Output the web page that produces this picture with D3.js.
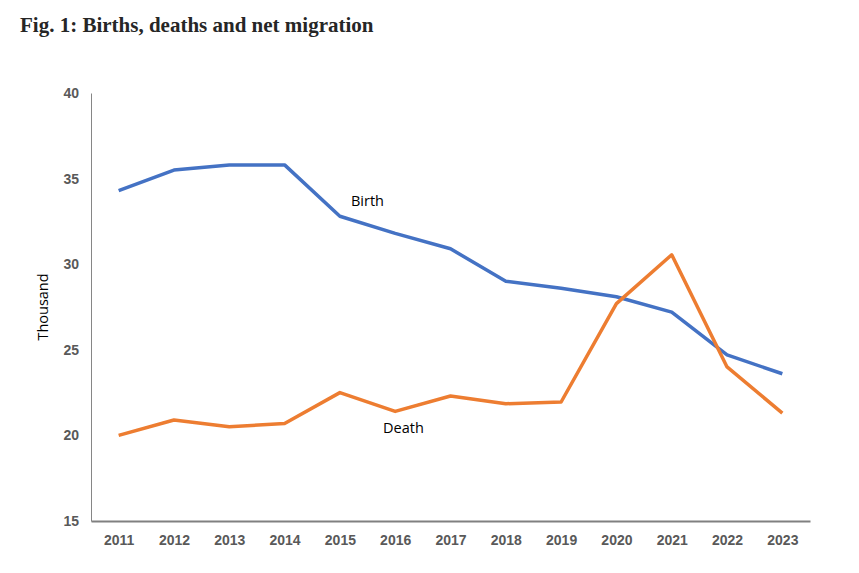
<!DOCTYPE html>
<html>
<head>
<meta charset="utf-8">
<script src="https://cdn.jsdelivr.net/npm/d3@7"></script>
<style>
  body { margin: 0; background: #fff; }
</style>
</head>
<body>
<div id="chart"></div>
<script>
var years = ['2011','2012','2013','2014','2015','2016','2017','2018','2019','2020','2021','2022','2023'];
var births = [34.3, 35.5, 35.8, 35.8, 32.8, 31.8, 30.9, 29.0, 28.6, 28.1, 27.2, 24.7, 23.6];
var deaths = [20.0, 20.9, 20.5, 20.7, 22.5, 21.4, 22.3, 21.85, 21.95, 27.7, 30.55, 24.0, 21.3];
var yTicks = [15, 20, 25, 30, 35, 40];

var w = 859, h = 573;
var padLeft = 91, padRight = 810, padTop = 93, padBottom = 521;

var svg = d3.select('#chart').append('svg')
  .attr('width', w)
  .attr('height', h);

svg.append('text')
  .attr('x', 20).attr('y', 32)
  .attr('font-family', 'Liberation Serif, serif')
  .attr('font-weight', 'bold')
  .attr('font-size', 21)
  .attr('fill', '#262626')
  .text('Fig. 1: Births, deaths and net migration');

var x = d3.scalePoint().domain(years).range([padLeft, padRight]).padding(0.5);
var y = d3.scaleLinear().domain([15, 40]).range([padBottom, padTop]);

// y axis
var yAxis = svg.append('g')
  .attr('transform', 'translate(' + padLeft + ',0)')
  .call(d3.axisLeft(y).tickValues(yTicks).tickSize(0).tickPadding(12));
yAxis.select('.domain').attr('stroke', '#868686').attr('stroke-width', 1);
yAxis.selectAll('text')
  .attr('font-family', 'Liberation Sans, Arial, sans-serif')
  .attr('font-weight', 'bold')
  .attr('font-size', 14)
  .attr('fill', '#595959');

// x axis
var xAxis = svg.append('g')
  .attr('transform', 'translate(0,' + padBottom + ')')
  .call(d3.axisBottom(x).tickSize(0).tickPadding(14));
xAxis.select('.domain').attr('stroke', '#808080').attr('stroke-width', 2);
xAxis.selectAll('text')
  .attr('font-family', 'Liberation Sans, Arial, sans-serif')
  .attr('font-weight', 'bold')
  .attr('font-size', 14)
  .attr('fill', '#595959');

svg.append('text')
  .attr('transform', 'translate(48,307) rotate(-90)')
  .attr('text-anchor', 'middle')
  .attr('font-family', 'Open Sans, sans-serif')
  .attr('font-size', 14.5)
  .attr('fill', '#000')
  .text('Thousand');

var line = d3.line()
  .x(function(d, i) { return x(years[i]); })
  .y(function(d) { return y(d); });

svg.append('path')
  .datum(births)
  .attr('fill', 'none')
  .attr('stroke', '#4472C4')
  .attr('stroke-width', 3.5)
  .attr('stroke-linejoin', 'round')
  .attr('d', line);

svg.append('path')
  .datum(deaths)
  .attr('fill', 'none')
  .attr('stroke', '#ED7D31')
  .attr('stroke-width', 3.5)
  .attr('stroke-linejoin', 'round')
  .attr('d', line);

svg.append('text')
  .attr('x', 351).attr('y', 206)
  .attr('font-family', 'Open Sans, sans-serif')
  .attr('font-size', 14.5)
  .attr('fill', '#000')
  .text('Birth');

svg.append('text')
  .attr('x', 383).attr('y', 433)
  .attr('font-family', 'Open Sans, sans-serif')
  .attr('font-size', 14.5)
  .attr('fill', '#000')
  .text('Death');
</script>
</body>
</html>
